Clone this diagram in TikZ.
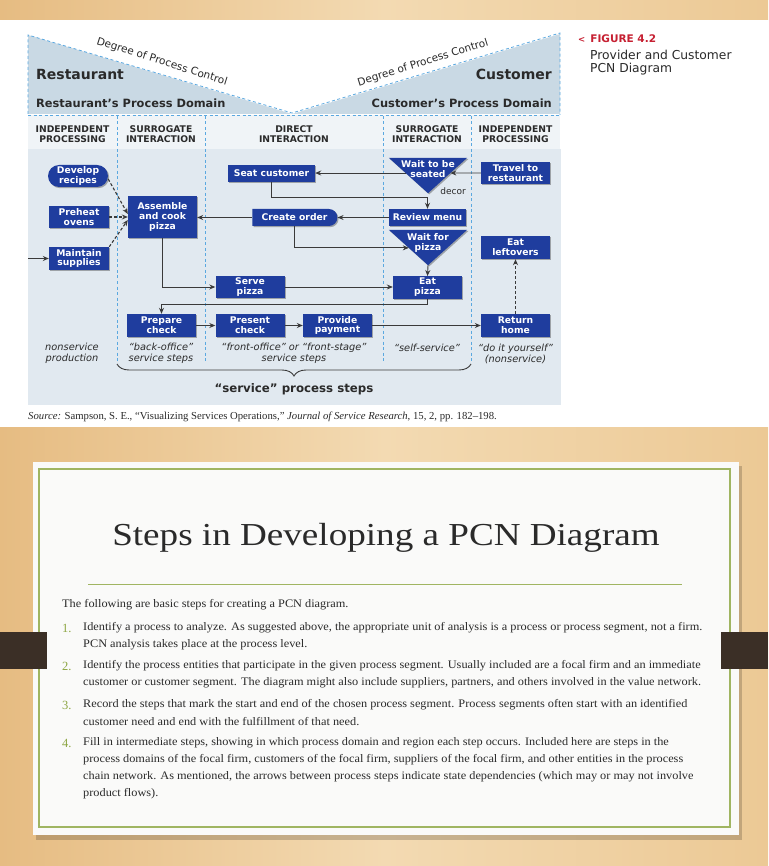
\documentclass[tikz,border=0pt]{standalone}
\usepackage{fontspec}
\setmainfont{Liberation Serif}
\newfontfamily\figfont{DejaVu Sans}
\usetikzlibrary{arrows.meta,calc,decorations.pathreplacing,shadows,shapes.misc}
\definecolor{woodA}{HTML}{E6BC82}
\definecolor{woodB}{HTML}{F3DAB2}
\definecolor{woodC}{HTML}{ECC995}
\definecolor{boxblue}{HTML}{1F3D9E}
\definecolor{linegray}{HTML}{3A3A3A}
\definecolor{dashblue}{HTML}{5AA8E0}
\definecolor{triblue}{HTML}{C9D9E4}
\definecolor{headblue}{HTML}{F0F4F7}
\definecolor{areablue}{HTML}{E1E9F0}
\definecolor{figred}{HTML}{C62032}
\definecolor{olivec}{HTML}{A0B562}
\definecolor{numgreen}{HTML}{8DA643}
\definecolor{darktab}{HTML}{3B2F26}
\definecolor{txtdark}{HTML}{2A2A2A}
\definecolor{cardwhite}{HTML}{FAFAF9}
\newcommand\bodyw[1]{\scalebox{1.07}[1]{#1}}
\begin{document}
\begin{tikzpicture}[x=1pt,y=-1pt,
  arr/.style={draw=linegray, line width=0.9pt, -{Stealth[length=6pt,width=5pt]}},
  darr/.style={arr, dash pattern=on 3pt off 2pt, line width=1.1pt},
  divider/.style={draw=dashblue, line width=0.8pt, dash pattern=on 3pt off 2.5pt},
  pshadow/.style={drop shadow={shadow xshift=1.2pt, shadow yshift=-1.2pt, opacity=0.3, fill=black}},
  pbox/.style={fill=boxblue, text=white, font=\figfont\bfseries\fontsize{9.2}{9.8}\selectfont, align=center, inner sep=0pt, minimum width=69pt, minimum height=22.5pt, pshadow},
  pill/.style={pbox, rounded rectangle},
  tribox/.style={inner sep=0pt, minimum width=78pt, minimum height=35pt},
  trilabel/.style={text=white, font=\figfont\bfseries\fontsize{9.2}{9.8}\selectfont, align=center, inner sep=0pt},
  fighead/.style={font=\figfont\bfseries\fontsize{9.2}{10}\selectfont, text=txtdark, align=center, inner sep=0pt},
  figital/.style={font=\figfont\itshape\fontsize{9.8}{11}\selectfont, text=txtdark, align=center, inner sep=0pt},
  body/.style={anchor=west, inner sep=0pt, font=\fontsize{11.5}{13}\selectfont, text=txtdark},
  num/.style={anchor=west, inner sep=0pt, font=\fontsize{12.5}{13}\selectfont, text=numgreen}
]
\useasboundingbox (0,0) rectangle (768,866);
% ---------- backgrounds ----------
\shade[left color=woodA, right color=woodC, middle color=woodB] (0,0) rectangle (768,20);
\fill[white] (0,20) rectangle (768,427);
\shade[left color=woodA, right color=woodC, middle color=woodB] (0,427) rectangle (768,866);
% ---------- figure frame ----------
\fill[triblue] (28,35) -- (292,114) -- (28,114) -- cycle;
\fill[triblue] (560,34) -- (560,114) -- (292,114) -- cycle;
\fill[headblue] (28,115) rectangle (560,149);
\fill[areablue] (28,149) rectangle (561,405);
\draw[divider] (28,114) -- (28,35) -- (292,113) -- (560,33) -- (560,115);
\draw[divider] (28,115) -- (560,115);
\foreach \x in {117,205,383,471} \draw[divider] (\x,116) -- (\x,362);
% ---------- domain labels ----------
\node[anchor=west, font=\figfont\bfseries\fontsize{14}{16}\selectfont, text=txtdark, inner sep=0pt] (rest) at (36,74) {Restaurant};
\node[anchor=west, font=\figfont\bfseries\fontsize{11.4}{13}\selectfont, text=txtdark, inner sep=0pt] (restdom) at (36,103) {Restaurant’s Process Domain};
\node[anchor=east, font=\figfont\bfseries\fontsize{14}{16}\selectfont, text=txtdark, inner sep=0pt] (cust) at (552,74) {Customer};
\node[anchor=east, font=\figfont\bfseries\fontsize{11.4}{13}\selectfont, text=txtdark, inner sep=0pt] (custdom) at (552,103) {Customer’s Process Domain};
\node[font=\figfont\fontsize{10.5}{12}\selectfont, text=txtdark, rotate=-17.5, inner sep=0pt] (dpc1) at (162,62) {Degree of Process Control};
\node[font=\figfont\fontsize{10.5}{12}\selectfont, text=txtdark, rotate=17.5, inner sep=0pt] (dpc2) at (423,63) {Degree of Process Control};
% ---------- column headers ----------
\node[fighead] (h1) at (72.5,134) {INDEPENDENT\\PROCESSING};
\node[fighead] (h2) at (161,134) {SURROGATE\\INTERACTION};
\node[fighead] (h3) at (294,134) {DIRECT\\INTERACTION};
\node[fighead] (h4) at (427,134) {SURROGATE\\INTERACTION};
\node[fighead] (h5) at (515.5,134) {INDEPENDENT\\PROCESSING};
% ---------- caption ----------
\node[anchor=west, font=\figfont\bfseries\fontsize{10.5}{12}\selectfont, text=figred, inner sep=0pt] (fig) at (578,39) {{\fontsize{8.5}{10}\selectfont<}\hspace{5pt}FIGURE 4.2};
\node[anchor=north west, font=\figfont\fontsize{12.3}{13.2}\selectfont, text=txtdark, align=left, inner sep=0pt] (figcap) at (590,50) {Provider and Customer\\PCN Diagram};
% ---------- process boxes ----------
\node[pill, minimum width=60pt, minimum height=22pt] (recipes) at (78,176) {Develop\\recipes};
\node[pbox, minimum width=60pt, minimum height=22pt] (preheat) at (79,217) {Preheat\\ovens};
\node[pbox, minimum width=60pt, minimum height=23pt] (maintain) at (79,258.5) {Maintain\\supplies};
\node[pbox, minimum height=42pt] (assemble) at (162.5,217) {Assemble\\and cook\\pizza};
\node[pbox, minimum width=87pt, minimum height=17pt] (seat) at (271.5,173.5) {Seat customer};
\node[pbox] (travel) at (515.5,173) {Travel to\\restaurant};
\node[pbox, minimum width=77pt, minimum height=17pt] (review) at (427.5,217.5) {Review menu};
\node[pill, rounded rectangle left arc=none, minimum width=85pt, minimum height=17pt] (create) at (294.5,217.5) {Create order};
\node[pbox, minimum height=23pt] (leftovers) at (515.5,247.5) {Eat\\leftovers};
\node[pbox] (serve) at (250,287) {Serve\\pizza};
\node[pbox] (eat) at (427.5,287.5) {Eat\\pizza};
\node[pbox, minimum height=23pt] (prepare) at (161.5,325.5) {Prepare\\check};
\node[pbox, minimum height=23pt] (present) at (250,325.5) {Present\\check};
\node[pbox, minimum height=23pt] (provide) at (337.5,325.5) {Provide\\payment};
\node[pbox, minimum height=23pt] (return) at (515.5,325.5) {Return\\home};
% ---------- wait triangles ----------
\node[tribox] (wts) at (428,175.5) {};
\fill[boxblue, pshadow] (wts.north west) -- (wts.north east) -- (wts.south) -- cycle;
\node[trilabel] (wtstext) at (428,169) {Wait to be\\seated};
\node[tribox] (wfp) at (428,247.5) {};
\fill[boxblue, pshadow] (wfp.north west) -- (wfp.north east) -- (wfp.south) -- cycle;
\node[trilabel] (wfptext) at (428,243) {Wait for\\pizza};
\node[font=\figfont\fontsize{9}{10}\selectfont, text=txtdark, inner sep=0pt] (decor) at (453,191) {decor};
\coordinate (wtsR) at ($(wts.north east)!0.43!(wts.south)$);
\coordinate (wtsL) at ($(wts.north west)!0.43!(wts.south)$);
\coordinate (wfpL) at ($(wfp.north west)!0.51!(wfp.south)$);
\coordinate (supin) at (28,258.5);
% ---------- connectors ----------
\draw[arr] (supin) -- (maintain.west);
\draw[darr] ([yshift=-3pt]recipes.east) -- ([yshift=3pt]assemble.west);
\draw[darr] (preheat.east) -- (assemble.west);
\draw[darr] (maintain.north east) -- ([yshift=-3pt]assemble.west);
\draw[arr] (create.west) -- (create.west -| assemble.east);
\draw[arr] (assemble.south) |- (serve.west);
\draw[arr] (travel.west) -- (wtsR);
\draw[arr] (wtsL) -- (wtsL -| seat.east);
\draw[arr] (seat.south) -- ++(0,15) -| (review.north);
\draw[arr] (review.west) -- (create.east);
\draw[arr] (create.south) |- (wfpL);
\draw[arr] (wfp.south) -- (eat.north);
\draw[arr] (serve.east) -- (serve.east -| eat.west);
\draw[arr] (eat.south) -- ++(0,5.5) -| (prepare.north);
\draw[arr] (prepare.east) -- (present.west);
\draw[arr] (present.east) -- (provide.west);
\draw[arr] (provide.east) -- (return.west);
\draw[darr] (return.north) -- (leftovers.south);
% ---------- bottom labels ----------
\node[figital] (lb1) at (72,353.5) {nonservice\\production};
\node[figital] (lb2) at (161,353.5) {“back-office”\\service steps};
\node[figital] (lb3) at (294,353.5) {“front-office” or “front-stage”\\service steps};
\node[figital] (lb4) at (427,348) {“self-service”};
\node[figital] (lb5) at (515.5,353.5) {“do it yourself”\\(nonservice)};
\coordinate (brR) at (471,364);
\coordinate (brL) at (117,364);
\draw[linegray, line width=0.9pt, decorate, decoration={brace, amplitude=12pt}] (brR) -- (brL);
\node[font=\figfont\bfseries\fontsize{11.8}{13}\selectfont, text=txtdark, inner sep=0pt] (svc) at (294,389) {“service” process steps};
\node[anchor=west, font=\fontsize{10.7}{12}\selectfont, text=txtdark, inner sep=0pt] (src) at (28,417) {\textit{Source:} Sampson, S. E., “Visualizing Services Operations,” \textit{Journal of Service Research}, 15, 2, pp. 182–198.};
% ---------- bottom slide ----------
\fill[black, opacity=0.18] (36,466) rectangle (742,840);
\fill[cardwhite] (33,462) rectangle (739,835);
\draw[olivec, line width=1.1pt] (39,469) rectangle (730,827);
\fill[darktab] (0,632) rectangle (47,669);
\fill[darktab] (721,632) rectangle (768,669);
\node[font=\fontsize{32}{36}\selectfont, text=txtdark, inner sep=0pt] (title) at (386,538) {\scalebox{1.16}[1]{Steps in Developing a PCN Diagram}};
\draw[olivec, line width=0.8pt] (88,584) -- (682,584);
\node[body] (b0) at (62,605) {\bodyw{The following are basic steps for creating a PCN diagram.}};
\node[num] (n1) at (62,628) {1.};
\node[body] (t1a) at (83,628) {\bodyw{Identify a process to analyze. As suggested above, the appropriate unit of analysis is a process or process segment, not a firm.}};
\node[body] (t1b) at (83,645) {\bodyw{PCN analysis takes place at the process level.}};
\node[num] (n2) at (62,666) {2.};
\node[body] (t2a) at (83,666) {\bodyw{Identify the process entities that participate in the given process segment. Usually included are a focal firm and an immediate}};
\node[body] (t2b) at (83,683) {\bodyw{customer or customer segment. The diagram might also include suppliers, partners, and others involved in the value network.}};
\node[num] (n3) at (62,705) {3.};
\node[body] (t3a) at (83,705) {\bodyw{Record the steps that mark the start and end of the chosen process segment. Process segments often start with an identified}};
\node[body] (t3b) at (83,722) {\bodyw{customer need and end with the fulfillment of that need.}};
\node[num] (n4) at (62,743) {4.};
\node[body] (t4a) at (83,743) {\bodyw{Fill in intermediate steps, showing in which process domain and region each step occurs. Included here are steps in the}};
\node[body] (t4b) at (83,760) {\bodyw{process domains of the focal firm, customers of the focal firm, suppliers of the focal firm, and other entities in the process}};
\node[body] (t4c) at (83,777) {\bodyw{chain network. As mentioned, the arrows between process steps indicate state dependencies (which may or may not involve}};
\node[body] (t4d) at (83,794) {\bodyw{product flows).}};
\end{tikzpicture}
\end{document}
